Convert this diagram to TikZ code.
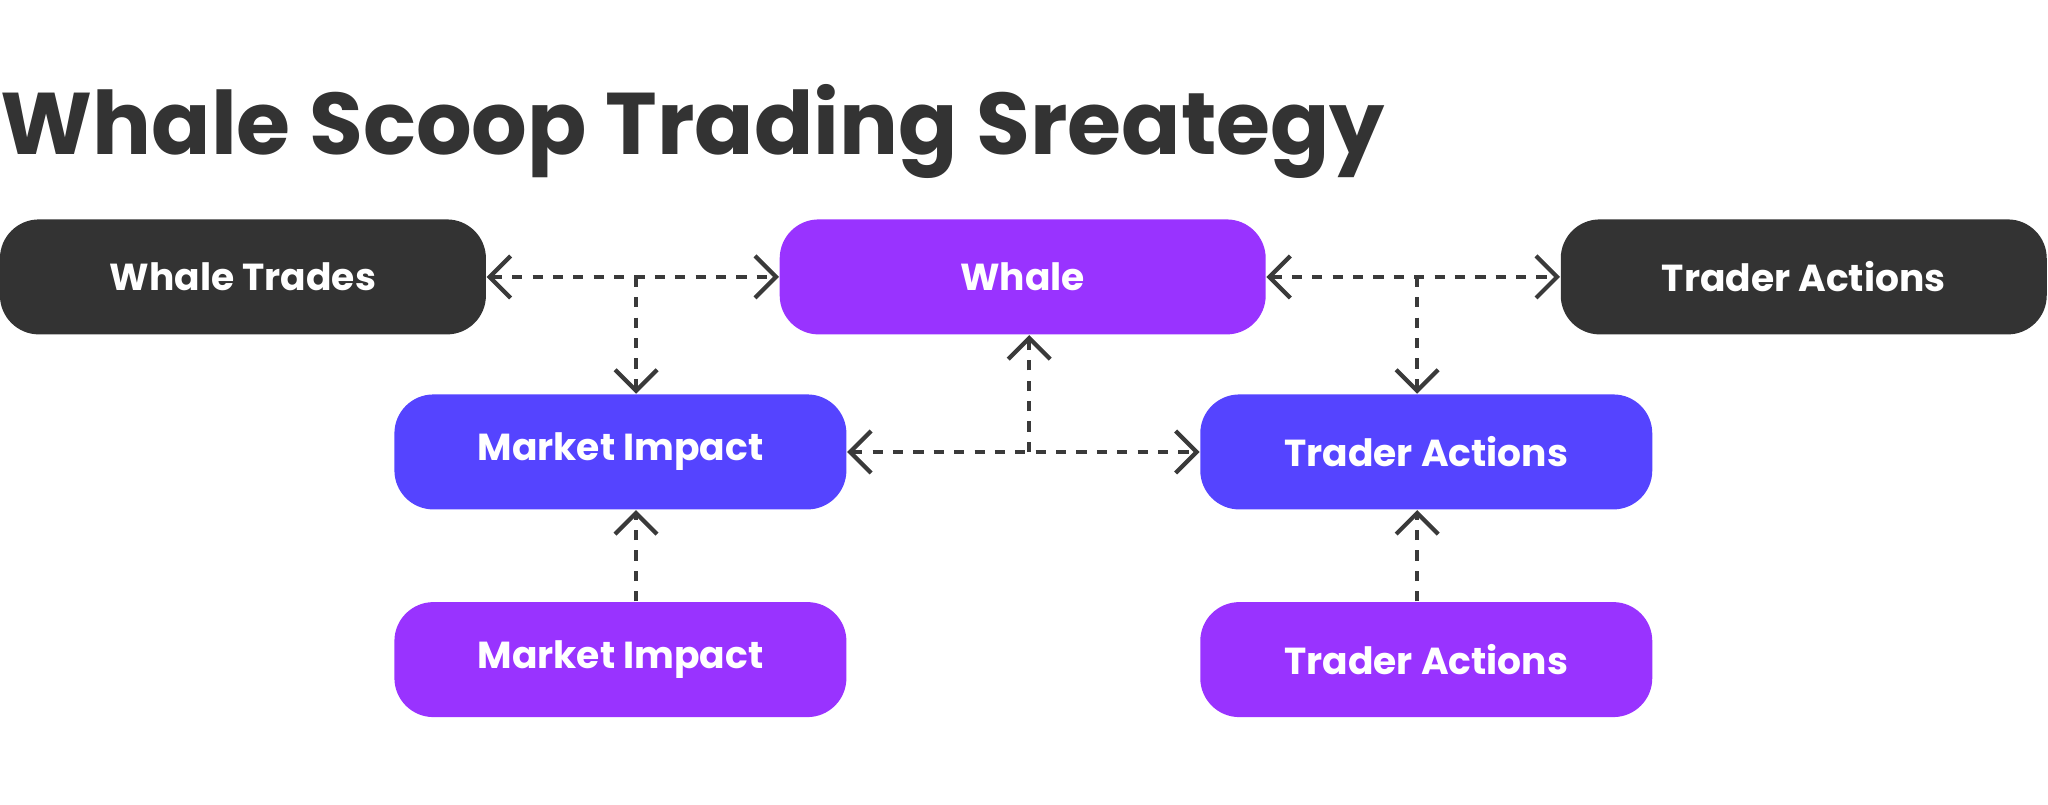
\documentclass[tikz,border=0pt]{standalone}
\usepackage{fontspec}
\setmainfont{Poppins}
\usetikzlibrary{arrows.meta}
\definecolor{darkbox}{HTML}{333333}
\definecolor{violetbox}{HTML}{9933FF}
\definecolor{bluebox}{HTML}{5544FF}
\definecolor{linegray}{HTML}{3A3A3A}
\tikzset{
  box/.style={rounded corners=0.39cm, minimum height=1.15cm, text=white, font=\fontsize{10.7}{12}\selectfont\bfseries, inner sep=0pt},
  widebox/.style={box, minimum width=4.86cm},
  midbox/.style={box, minimum width=4.52cm},
  link/.style={linegray, line width=1.2pt, dash pattern=on 2.9pt off 2.9pt},
  tip/.style={-{Straight Barb[length=2.1mm,width=4.2mm,line width=1.2pt]}},
  tips/.style={{Straight Barb[length=2.1mm,width=4.2mm,line width=1.2pt]}-{Straight Barb[length=2.1mm,width=4.2mm,line width=1.2pt]}}
}
\begin{document}
\begin{tikzpicture}[x=0.01306cm,y=-0.01306cm]
	\useasboundingbox (0,0) rectangle (1568,616);
	\node[anchor=base west, inner sep=0pt, font=\fontsize{24.9}{28}\selectfont\bfseries, text=darkbox] (title) at (0,118) {Whale Scoop Trading Sreategy};
	
	\node[widebox, fill=darkbox] (WT) at (186,212) {Whale Trades};
	\node[widebox, fill=violetbox] (W) at (783,212) {Whale};
	\node[widebox, fill=darkbox] (TA) at (1381,212) {Trader Actions};
	\node[midbox, fill=bluebox] (MI) at (475,346) {Market Impact};
	\node[midbox, fill=bluebox] (TB) at (1092,346) {Trader Actions};
	\node[midbox, fill=violetbox] (MP) at (475,505) {Market Impact};
	\node[midbox, fill=violetbox] (TP) at (1092,505) {Trader Actions};
	
	\coordinate (j1) at (487,212);
	\coordinate (j2) at (1085,212);
	\coordinate (j3) at (788,346);
	
	\draw[link, tips] (WT.east) -- (W.west);
	\draw[link, tips] (W.east) -- (TA.west);
	\draw[link, tips] (MI.east) -- (TB.west);
	\draw[link, tip] (j1) -- (j1 |- MI.north);
	\draw[link, tip] (j2) -- (j2 |- TB.north);
	\draw[link, tip] (j3) -- (j3 |- W.south);
	\draw[link, tip] (MP.north -| j1) -- (j1 |- MI.south);
	\draw[link, tip] (TP.north -| j2) -- (j2 |- TB.south);
\end{tikzpicture}
\end{document}
